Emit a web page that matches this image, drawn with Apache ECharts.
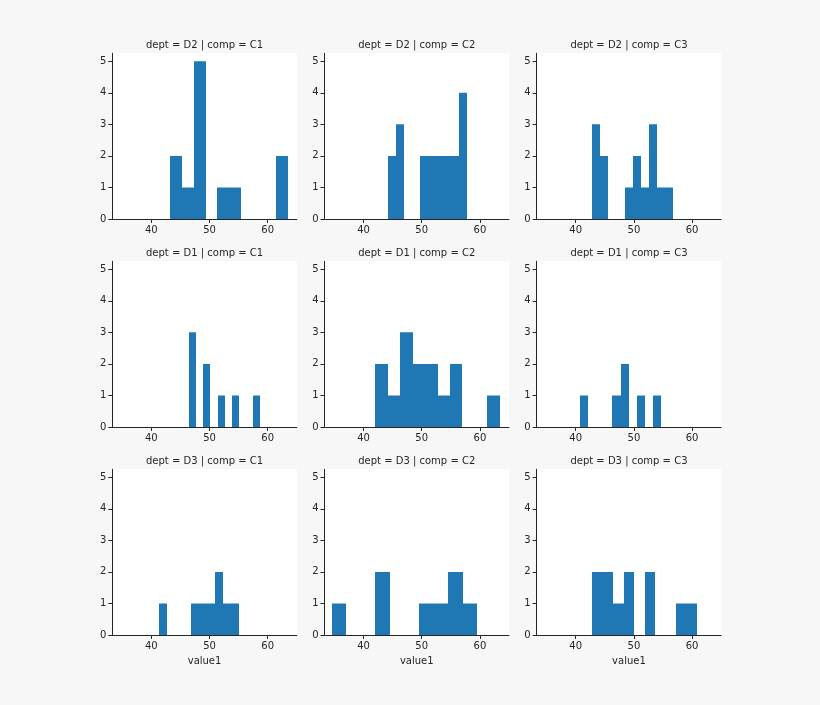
<!DOCTYPE html>
<html>
<head>
<meta charset="utf-8">
<script src="https://cdn.jsdelivr.net/npm/echarts@6/dist/echarts.min.js"></script>
<style>
html,body{margin:0;padding:0;background:#f7f7f7;}
#chart{width:820px;height:705px;}
</style>
</head>
<body>
<div id="chart"></div>
<script>
// Facet rows / columns
const depts = ['D2', 'D1', 'D3'];
const comps = ['C1', 'C2', 'C3'];
const xTicks = [40, 50, 60];
const yTicks = [0, 1, 2, 3, 4, 5];
const xName = 'value1';

// Histogram bin range (first edge, last edge) per panel, row-major
const binMin = [43.26, 44.24, 42.87, 46.51, 42.00, 40.80, 41.26, 34.56, 42.87];
const binMax = [63.49, 57.82, 56.67, 58.69, 63.44, 54.60, 55.09, 59.54, 60.80];

// Counts per bin (10 bins each)
const countsD2C1 = [2, 1, 5, 0, 1, 1, 0, 0, 0, 2];
const countsD2C2 = [2, 3, 0, 0, 2, 2, 2, 2, 2, 4];
const countsD2C3 = [3, 2, 0, 0, 1, 2, 1, 3, 1, 1];
const countsD1C1 = [3, 0, 2, 0, 1, 0, 1, 0, 0, 1];
const countsD1C2 = [2, 1, 3, 2, 2, 1, 2, 0, 0, 1];
const countsD1C3 = [1, 0, 0, 0, 1, 2, 0, 1, 0, 1];
const countsD3C1 = [1, 0, 0, 0, 1, 1, 1, 2, 1, 1];
const countsD3C2 = [1, 0, 0, 2, 0, 0, 1, 1, 2, 1];
const countsD3C3 = [2, 2, 1, 2, 0, 2, 0, 0, 1, 1];
const allCounts = [countsD2C1, countsD2C2, countsD2C3, countsD1C1, countsD1C2, countsD1C3, countsD3C1, countsD3C2, countsD3C3];

const xMin = 33.3, xMax = 65.0, yMax = 5.25;

const colLeft = [112.3, 324.5, 536.7];
const rowTop = [53.3, 261.3, 469.3];
const gw = 184.5, gh = 165.7;

const FONT = 'DejaVu Sans';
const TXT = '#262626';
const BAR = '#1f77b4';

const grids = [], xAxes = [], yAxes = [], series = [], graphics = [];
for (let r = 0; r < 3; r++) {
  for (let c = 0; c < 3; c++) {
    const i = r * 3 + c;
    grids.push({left: colLeft[c], top: rowTop[r], width: gw, height: gh,
      show: true, backgroundColor: '#ffffff', borderWidth: 0, containLabel: false});
    xAxes.push({
      type: 'value', gridIndex: i, min: xMin, max: xMax,
      axisLine: {show: true, lineStyle: {color: TXT, width: 1}},
      axisTick: {show: true, inside: false, length: 4, customValues: xTicks, lineStyle: {color: TXT}},
      axisLabel: {show: true, customValues: xTicks, color: TXT, fontFamily: FONT, fontSize: 10, margin: 6},
      splitLine: {show: false},
      name: r === 2 ? xName : '', nameLocation: 'middle', nameGap: 21,
      nameTextStyle: {color: TXT, fontFamily: FONT, fontSize: 10}
    });
    yAxes.push({
      type: 'value', gridIndex: i, min: 0, max: yMax,
      axisLine: {show: true, lineStyle: {color: TXT, width: 1}},
      axisTick: {show: true, inside: false, length: 4, customValues: yTicks, lineStyle: {color: TXT}},
      axisLabel: {show: true, customValues: yTicks, color: TXT, fontFamily: FONT, fontSize: 10, margin: 6},
      splitLine: {show: false}
    });
    const cnt = allCounts[i];
    const w = (binMax[i] - binMin[i]) / cnt.length;
    const data = cnt.map((v, k) => [binMin[i] + k * w, binMin[i] + (k + 1) * w, v]);
    series.push({
      type: 'custom', xAxisIndex: i, yAxisIndex: i, data: data, clip: true,
      encode: {x: [0, 1], y: 2},
      renderItem: function (params, api) {
        const lo = api.value(0), hi = api.value(1), v = api.value(2);
        if (!v) return null;
        const p0 = api.coord([lo, v]);
        const p1 = api.coord([hi, 0]);
        const x0 = Math.round(p0[0]), x1 = Math.round(p1[0]);
        return {type: 'rect',
          shape: {x: x0, y: p0[1], width: x1 - x0, height: p1[1] - p0[1]},
          style: {fill: BAR}};
      },
      silent: true
    });
    graphics.push({type: 'text', x: colLeft[c] + gw / 2, y: rowTop[r] - 8,
      style: {text: 'dept = ' + depts[r] + ' | comp = ' + comps[c], fill: TXT,
        font: '10px "DejaVu Sans"', textAlign: 'center', textVerticalAlign: 'middle'}});
  }
}

const chart = echarts.init(document.getElementById('chart'), null, {renderer: 'canvas'});
chart.setOption({
  backgroundColor: '#f7f7f7',
  animation: false,
  grid: grids, xAxis: xAxes, yAxis: yAxes, series: series,
  graphic: graphics
});
</script>
</body>
</html>
